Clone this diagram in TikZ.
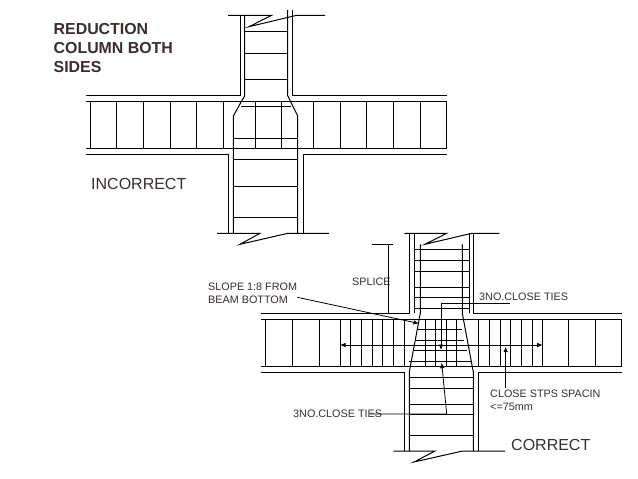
\documentclass[tikz,border=0pt]{standalone}
\usepackage{fontspec}
\setmainfont{Liberation Sans}
\usetikzlibrary{arrows.meta}
\definecolor{inkbrown}{HTML}{3A2C2C}
\tikzset{
  member/.style={line width=1pt},
  leader/.style={line width=0.8pt},
  tip/.style={-{Latex[length=5.5pt,width=4.5pt]}},
  note/.style={text=inkbrown, font=\fontsize{10.8}{13.5}\selectfont, anchor=north west, inner sep=0pt, align=left},
}

\begin{document}
\begin{tikzpicture}[x=1pt, y=-1pt]
\useasboundingbox (0,0) rectangle (638,479);
\begin{scope}[member]

% incorrect joint
\coordinate (bla) at (85.7,95.7);
\coordinate (blb) at (85.7,101.3);
\coordinate (blc) at (85.7,148.3);
\coordinate (bld) at (85.7,154.3);
\coordinate (bra) at (446.7,95.7);
\coordinate (brb) at (446.7,101.3);
\coordinate (brc) at (446.7,148.3);
\coordinate (brd) at (446.7,154.3);
\draw (blb) -- (brb);
\draw (blc) -- (brc);
\draw (bla) -- (240,95.7) -- (240,15.3);
\draw (bra) -- (292,95.7) -- (292,10);
\draw (bld) -- (228.3,154.3) -- (228.3,233.3);
\draw (brd) -- (303.3,154.3) -- (303.3,233.3);
\draw (244.7,15.3) -- (244.7,95.7) -- (233.3,116) -- (233.3,233.3);
\draw (287.7,10) -- (287.7,95.7) -- (297.7,116) -- (297.7,233.3);
\draw (228,15.3) -- (271.7,15.3) -- (249,26.7) -- (296.7,15.3) -- (325,15.3);
\draw (217,233.3) -- (260,233.3) -- (240,244.3) -- (288,233.3) -- (329,233.3);
\foreach \y in {31.7,53.3,79.3}
  \draw (244.7,\y) -- (287.7,\y);
\foreach \y in {138.3,159.3,186.3,217.3}
  \draw (233.3,\y) -- (297.7,\y);
\draw (241,106.7) -- (291,106.7);
\foreach \x in {90.7,116.7,143.3,170.3,196.3,223.3,255.3,281.7,313.3,340.7,366.7,393.3,420,446.7}
  \draw (\x,101.3) -- (\x,148.3);

% correct joint
\draw (260.7,319.3) -- (622,319.3);
\draw (260.7,366.7) -- (622,366.7);
\draw (260.7,313.3) -- (409.3,313.3) -- (409.3,233.3);
\draw (622,313.3) -- (473.7,313.3) -- (473.7,233.3);
\draw (260.7,372.3) -- (404.3,372.3) -- (404.3,451);
\draw (622,372.3) -- (478.3,372.3) -- (478.3,451);
\draw (414,233.3) -- (414,313);
\draw (469,233.3) -- (469,313);
\draw (420.3,244.3) -- (420.3,313.3) -- (409.3,372) -- (409.3,451);
\draw (462.3,244.3) -- (462.3,313.3) -- (473.3,372) -- (473.3,451);
\draw (404.3,233.3) -- (446.7,233.3) -- (425,244.3) -- (471.7,233.3) -- (499.3,233.3);
\draw (393.3,451) -- (435,451) -- (414,462) -- (462.7,451) -- (505,451);
\foreach \y in {249,260.3,271.7,287.3,297.3,308.3}
  \draw (414,\y) -- (469,\y);
\foreach \y in {377.3,388.3,404,414,435.7}
  \draw (409.3,\y) -- (473.3,\y);
\draw (418,329.3) -- (462,329.3);
\draw (416,340.7) -- (464,340.7);
\draw (414,350.7) -- (467,350.7);
\draw (409,361) -- (472,361);
\foreach \x in {265.7,292.3,319.3,340.3,350.3,361.7,372.3,382.7,393.3,404,425.3,435.7,446.7,456.7,478.7,489.3,500,510.7,521.3,532,542.7,568.3,595,621.7}
  \draw (\x,319.3) -- (\x,366.7);

\end{scope}

% labels
\node[note, font=\bfseries\fontsize{15.9}{19}\selectfont] (title) at (53.5,23)
     {REDUCTION\\COLUMN BOTH\\SIDES};
\node[note, font=\fontsize{16}{18}\selectfont] (incorrect) at (91,178) {INCORRECT};
\node[note, font=\fontsize{16}{18}\selectfont] (correct) at (511,439) {CORRECT};
\node[note] (slope) at (208,282.5) {SLOPE 1:8 FROM\\BEAM BOTTOM};
\node[note] (splice) at (352,277.5) {SPLICE};
\node[note] (tiesa) at (479,293) {3NO.CLOSE TIES};
\node[note] (tiesb) at (293,410) {3NO.CLOSE TIES};
\node[note] (stps) at (490,389.5) {CLOSE STPS SPACIN\\<=75mm};

% leaders
\coordinate (spliceT) at (388.7,244.3);
\coordinate (spliceB) at (388.7,313.3);
\coordinate (spliceL) at (372.3,244.3);
\coordinate (spliceR) at (393.3,244.3);
\draw[leader] (spliceL) -- (spliceR);
\draw[leader] (spliceT) -- (spliceB);
\coordinate (slopeA) at (297.3,297.3);
\coordinate (slopeB) at (419,323.5);
\draw[leader, tip] (slopeA) -- (slopeB);
\coordinate (tiesaA) at (510,303.3);
\coordinate (tiesaB) at (441,303.3);
\coordinate (tiesaC) at (441,350);
\draw[leader, tip] (tiesaA) -- (tiesaB) -- (tiesaC);
\coordinate (tiesbA) at (370,414);
\coordinate (tiesbB) at (446.7,414);
\coordinate (tiesbC) at (441.7,362.7);
\draw[leader, tip] (tiesbA) -- (tiesbB) -- (tiesbC);
\coordinate (stpsA) at (505.7,388);
\coordinate (stpsB) at (505.7,346.7);
\draw[leader, tip] (stpsA) -- (stpsB);
\coordinate (dimL) at (340,345);
\coordinate (dimR) at (542.7,345);
\draw[leader, {Latex[length=5.5pt,width=4.5pt]}-{Latex[length=5.5pt,width=4.5pt]}] (dimL) -- (dimR);

\end{tikzpicture}
\end{document}
